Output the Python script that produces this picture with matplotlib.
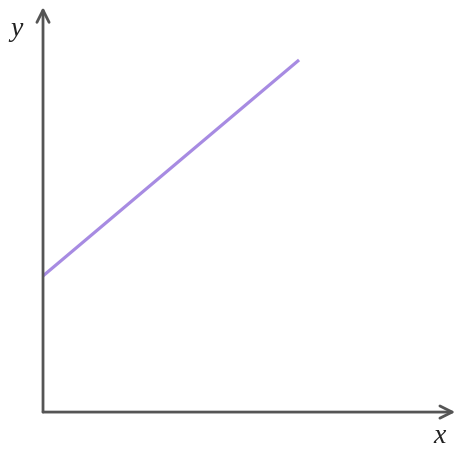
import matplotlib
matplotlib.use('Agg')
import matplotlib.pyplot as plt

# line data (same scale on both axes)
line_x = [0, 6]
line_y = [3.19, 8.25]

# axis extents
x_axis_end = 9.66
y_axis_end = 9.49

fig = plt.figure(figsize=(4.74, 4.62), dpi=100)
ax = fig.add_axes([0, 0, 1, 1])
ax.set_xlim(-1.008, 10.10)
ax.set_ylim(-1.17, 9.655)
ax.axis('off')

axis_color = '#555555'
ax.annotate('', xy=(x_axis_end, 0), xytext=(0, 0),
            arrowprops=dict(arrowstyle='->', color=axis_color, lw=2.0,
                            mutation_scale=22, shrinkA=0, shrinkB=0))
ax.annotate('', xy=(0, y_axis_end), xytext=(0, 0),
            arrowprops=dict(arrowstyle='->', color=axis_color, lw=2.0,
                            mutation_scale=22, shrinkA=0, shrinkB=0))

ax.plot(line_x, line_y, color='#a78be2', lw=2.3, solid_capstyle='butt')

ax.text(9.3, -0.57, 'x', fontfamily='Liberation Serif', fontstyle='italic',
        fontsize=20, ha='center', va='center', color='#222222')
ax.text(-0.61, 8.97, 'y', fontfamily='Liberation Serif', fontstyle='italic',
        fontsize=20, ha='center', va='center', color='#222222')

fig.savefig('out.png', dpi=100)
